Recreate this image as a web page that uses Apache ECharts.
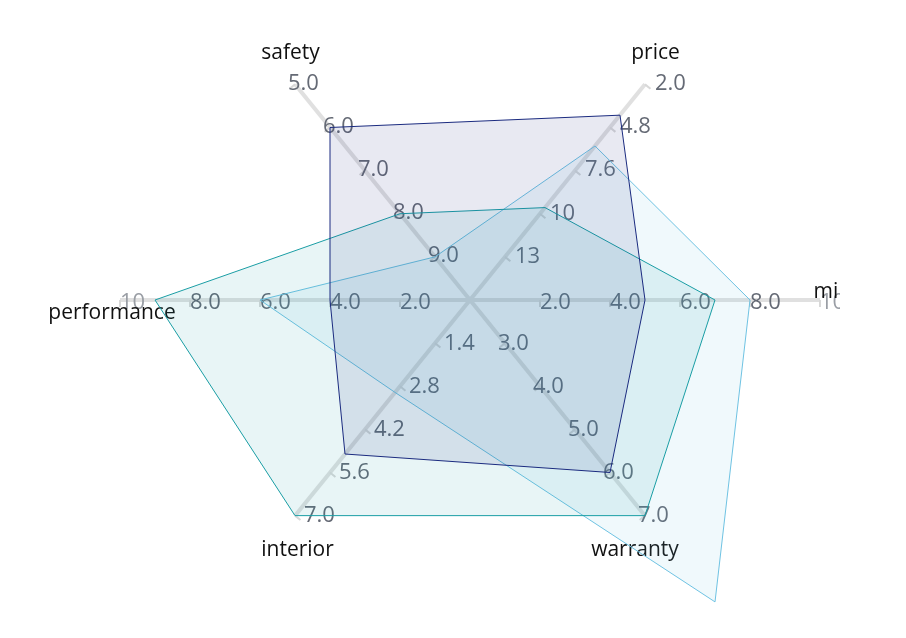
<!DOCTYPE html>
<html>
<head>
<meta charset="utf-8">
<script src="https://cdn.jsdelivr.net/npm/echarts@6/dist/echarts.min.js"></script>
<style>
html,body{margin:0;padding:0;background:#fff;}
#chart{width:840px;height:638px;overflow:hidden;}
</style>
</head>
<body>
<div id="chart"></div>
<script>
// ---------- data ----------
const indicators = ['mileage', 'price', 'safety', 'performance', 'interior', 'warranty'];
const centerValues = [0, 16, 10, 0, 0, 2];   // value at the centre of each axis
const outerValues  = [10, 2, 5, 10, 7, 7];   // value at the outer end of each axis
const tickValues = [
  [2, 4, 6, 8, 10],
  [13.2, 10.4, 7.6, 4.8, 2.0],
  [9, 8, 7, 6, 5],
  [2, 4, 6, 8, 10],
  [1.4, 2.8, 4.2, 5.6, 7.0],
  [3, 4, 5, 6, 7]
];
const tickLabels = [
  ['2.0', '4.0', '6.0', '8.0', '10'],
  ['13', '10', '7.6', '4.8', '2.0'],
  ['9.0', '8.0', '7.0', '6.0', '5.0'],
  ['2.0', '4.0', '6.0', '8.0', '10'],
  ['1.4', '2.8', '4.2', '5.6', '7.0'],
  ['3.0', '4.0', '5.0', '6.0', '7.0']
];
const seriesNames = ['car A', 'car B', 'car C'];
const carA = [5, 4, 6, 4, 5, 6];
const carB = [7, 10, 8, 9, 7, 7];
const carC = [8, 6, 9, 6, 3, 9];

// ---------- layout / style ----------
const angleStep = 60;
const seriesColors = ['#1b2b80', '#1a9ea5', '#6fc3e3'];
const fillOpacity = 0.1;
const tickLabelOffsets = [[0, 2.5], [10, -0.5], [-7, -1], [0, 2.5], [9, 0.5], [-7, 0.5]];
const nameLayout = [
  { dx: -6.5, dy: -8, align: 'left' },
  { dx: 10.5, dy: -31, align: 'center' },
  { dx: -4.5, dy: -31, align: 'center' },
  { dx: -8, dy: 13.5, align: 'center' },
  { dx: 2.5, dy: 34.5, align: 'center' },
  { dx: -10, dy: 34.5, align: 'center' }
];
const fontFamily = '"Open Sans", "Noto Sans", sans-serif';

function norm(i, v) { return (v - centerValues[i]) / (outerValues[i] - centerValues[i]); }
function toXY(i, v) {
  const r = norm(i, v);
  const a = i * angleStep * Math.PI / 180;
  return [r * Math.cos(a), r * Math.sin(a)];
}
function axisFrame(api, i) {
  const c = api.coord([0, 0]);
  const e = api.coord(toXY(i, outerValues[i]));
  const dx = e[0] - c[0], dy = e[1] - c[1];
  const L = Math.hypot(dx, dy);
  const ux = dx / L, uy = dy / L;
  let nx = -uy, ny = ux;
  if (ny < -1e-6 || (Math.abs(ny) < 1e-6 && nx < 0)) { nx = uy; ny = -ux; }
  if (Math.abs(ny) < 1e-6) { nx = 0; ny = 1; }
  return { c, e, nx, ny };
}
const axisData = indicators.map((n, i) => toXY(i, outerValues[i]).concat(i));

const axisSeries = {
  type: 'custom', coordinateSystem: 'cartesian2d', silent: true, clip: false, z: 1,
  data: axisData,
  renderItem: (params, api) => {
    const i = api.value(2);
    const f = axisFrame(api, i);
    const children = [{
      type: 'line', shape: { x1: f.c[0], y1: f.c[1], x2: f.e[0], y2: f.e[1] },
      style: { stroke: '#e0e0e0', lineWidth: 4 }
    }];
    tickValues[i].forEach(tv => {
      const p = api.coord(toXY(i, tv));
      children.push({
        type: 'line', shape: { x1: p[0], y1: p[1], x2: p[0] + f.nx * 7, y2: p[1] + f.ny * 7 },
        style: { stroke: '#d8d8d8', lineWidth: 2 }
      });
    });
    return { type: 'group', children };
  }
};

const tickLabelSeries = {
  type: 'custom', coordinateSystem: 'cartesian2d', silent: true, clip: false, z: 2,
  data: axisData,
  renderItem: (params, api) => {
    const i = api.value(2);
    const children = tickValues[i].map((tv, k) => {
      const p = api.coord(toXY(i, tv));
      const faded = (k === tickValues[i].length - 1) && (i === 0 || i === 3);
      return {
        type: 'text', x: p[0] + tickLabelOffsets[i][0], y: p[1] + tickLabelOffsets[i][1],
        style: {
          text: tickLabels[i][k], fill: faded ? '#9a9ea5' : '#656a75',
          fontSize: 22, fontFamily, align: 'left', verticalAlign: 'middle'
        }
      };
    });
    return { type: 'group', children };
  }
};

const nameSeries = {
  type: 'custom', coordinateSystem: 'cartesian2d', silent: true, clip: false, z: 2,
  data: axisData,
  renderItem: (params, api) => {
    const i = api.value(2);
    const e = api.coord(toXY(i, outerValues[i]));
    const L = nameLayout[i];
    return {
      type: 'text', x: e[0] + L.dx, y: e[1] + L.dy,
      style: { text: indicators[i], fill: '#111', fontSize: 21, fontFamily, align: L.align, verticalAlign: 'middle' }
    };
  }
};

function polygonSeries(name, values, color, z) {
  return {
    type: 'custom', name, coordinateSystem: 'cartesian2d', silent: true, clip: false, z,
    data: values.map((v, i) => toXY(i, v)),
    renderItem: (params, api) => {
      if (params.dataIndex !== 0) return null;
      const pts = values.map((v, i) => api.coord(toXY(i, v)));
      return {
        type: 'polygon', shape: { points: pts },
        style: { fill: echarts.color.modifyAlpha(color, fillOpacity), stroke: color, lineWidth: 1 }
      };
    }
  };
}

const chart = echarts.init(document.getElementById('chart'), null, { renderer: 'canvas' });
chart.setOption({
  animation: false,
  backgroundColor: '#ffffff',
  grid: { left: 120, right: 20, top: 51, bottom: 89, containLabel: false },
  xAxis: { type: 'value', min: -1, max: 1, show: false },
  yAxis: { type: 'value', min: -1, max: 1, show: false },
  series: [
    axisSeries,
    tickLabelSeries,
    nameSeries,
    polygonSeries(seriesNames[2], carC, seriesColors[2], 3),
    polygonSeries(seriesNames[1], carB, seriesColors[1], 4),
    polygonSeries(seriesNames[0], carA, seriesColors[0], 5)
  ]
});
</script>
</body>
</html>
